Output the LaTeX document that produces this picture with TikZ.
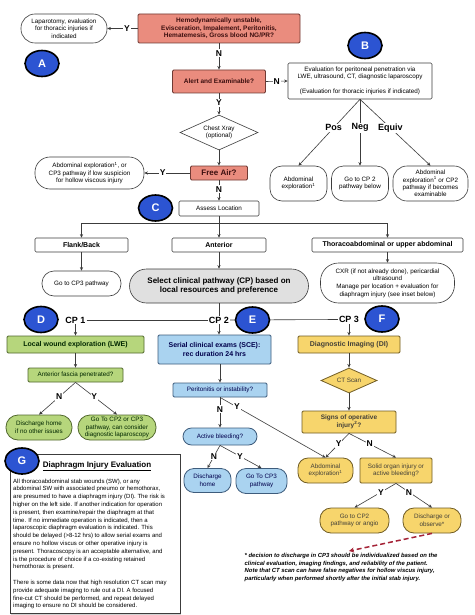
\documentclass[tikz,border=0pt]{standalone}
\usepackage{fontspec}
\setmainfont{Liberation Sans}
\usetikzlibrary{arrows.meta,shapes.geometric,shadows}
\definecolor{salm}{RGB}{234,140,126}
\definecolor{salmd}{RGB}{112,58,52}
\definecolor{grn}{RGB}{182,214,124}
\definecolor{grnd}{RGB}{82,104,46}
\definecolor{blu}{RGB}{170,211,240}
\definecolor{blud}{RGB}{62,92,124}
\definecolor{yel}{RGB}{247,213,108}
\definecolor{yeld}{RGB}{112,92,36}
\definecolor{gry}{RGB}{224,224,224}
\definecolor{cblue}{RGB}{44,84,210}
\definecolor{dred}{RGB}{165,35,55}
\definecolor{bord}{RGB}{60,60,60}
\definecolor{stxt}{RGB}{60,15,15}
\begin{document}
\begin{tikzpicture}[x=1pt,y=-1pt,
  every node/.style={align=center, inner sep=0.5pt, font=\fontsize{6.3}{7.6}\selectfont},
  sz/.style 2 args={minimum width=#1pt, minimum height=#2pt},
  box/.style={draw=bord, line width=0.6pt, rectangle, rounded corners=1.2pt, fill=white},
  rbox/.style={draw=bord, line width=0.6pt, rectangle, rounded corners=#1pt, fill=white},
  cS/.style={fill=salm, draw=salmd, line width=0.8pt, text=stxt},
  cG/.style={fill=grn, draw=grnd, line width=0.8pt, text=black!85!green},
  cB/.style={fill=blu, draw=blud, line width=0.8pt, text=blue!30!black},
  cY/.style={fill=yel, draw=yeld, line width=0.8pt, text=black!85!yellow},
  fb/.style={font=\fontsize{6.5}{7.6}\selectfont\bfseries},
  fB/.style={font=\fontsize{7}{8.4}\selectfont\bfseries},
  circ/.style={ellipse, draw=black, line width=1.6pt, fill=cblue, text=white, sz={34}{26}, font=\fontsize{11}{12}\selectfont\bfseries},
  lbl/.style={fill=white, inner sep=0.8pt, font=\fontsize{8.5}{9}\selectfont\bfseries},
  big/.style={fill=white, inner sep=1pt, font=\fontsize{9}{10}\selectfont\bfseries},
  arr/.style={draw=bord, line width=0.6pt, -{Stealth[length=3.6pt,width=3.2pt]}},
  ln/.style={draw=bord, line width=0.6pt}
]
\useasboundingbox (0,0) rectangle (474,615);
\fill[white] (0,0) rectangle (474,615);

% top section
\node[box, cS, sz={162}{29}, fb] (hemo) at (219,28.5) {Hemodynamically unstable,\\Evisceration, Impalement, Peritonitis,\\Hematemesis, Gross blood NG/PR?};
\node[rbox=14, sz={86}{29}] (lap) at (64,28.5) {Laparotomy, evaluation\\for thoracic injuries if\\indicated};
\node[circ] (A) at (42,63.5) {A};
\node[box, cS, sz={93}{23}, fb] (alert) at (219,81.5) {Alert and Examinable?};
\node[box, sz={144}{36}] (eval) at (360,81) {Evaluation for peritoneal penetration via\\LWE, ultrasound, CT, diagnostic laparoscopy\\[7.4pt](Evaluation for thoracic injuries if indicated)};
\node[circ] (B) at (365,45.5) {B};
\node[rbox=12, sz={57}{35}] (ab1) at (298.5,183.5) {Abdominal\\exploration\textsuperscript{1}};
\node[rbox=12, sz={57}{35}] (go2) at (360,183.5) {Go to CP 2\\pathway below};
\node[rbox=14, sz={75}{35}, font=\fontsize{6.3}{7.2}\selectfont] (ab2) at (430.5,183.5) {Abdominal\\exploration\textsuperscript{1} or CP2\\pathway if becomes\\examinable};
\node[diamond, draw=bord, line width=0.6pt, fill=white, aspect=2.2, sz={78}{35}, inner sep=0pt] (chest) at (219,132.5) {Chest Xray\\(optional)};
\node[box, cS, sz={57}{14}, font=\fontsize{8}{9}\selectfont\bfseries] (free) at (219,173) {Free Air?};
\node[rbox=15, sz={109}{32}] (abf) at (89.5,173) {Abdominal exploration\textsuperscript{1}, or\\CP3 pathway if low suspicion\\for hollow viscous injury};
\node[box, sz={80}{15}] (assess) at (219,208.5) {Assess Location};
\node[circ] (C) at (155.5,208) {C};
\node[box, sz={93}{14}, fB] (flank) at (81.5,245) {Flank/Back};
\node[box, sz={94}{14}, fB] (ant) at (219,245) {Anterior};
\node[box, sz={151}{14}, fB] (thor) at (387.5,245) {Thoracoabdominal or upper abdominal};
\node[rbox=12, sz={79}{25}] (gocp3) at (81.5,283.5) {Go to CP3 pathway};
\node[rbox=17, fill=gry, sz={179}{34}, font=\fontsize{8}{9.3}\selectfont\bfseries] (sel) at (219,286) {Select clinical pathway (CP) based on\\local resources and preference};
\node[rbox=18, sz={134}{40}] (cxr) at (387.5,283) {CXR (if not already done), pericardial\\ultrasound\\Manage per location + evaluation for\\diaphragm injury (see inset below)};

\draw[arr] (hemo.west) -- node[lbl,pos=.35]{Y} (lap.east);
\draw[arr] (hemo.south) -- node[lbl,pos=.37]{N} (alert.north);
\draw[arr] (alert.east) -- node[lbl,pos=.5]{N} (eval.west);
\draw[arr] (alert.south) -- node[lbl,pos=.45]{Y} (chest.north);
\draw[arr] (eval.south) -- node[big,pos=.43]{Pos} (ab1.north);
\draw[arr] (eval.south) -- node[big,pos=.43]{Neg} (go2.north);
\draw[arr] (eval.south) -- node[big,pos=.43]{Equiv} (ab2.north);
\draw[arr] (chest.south) -- (free.north);
\draw[arr] (free.west) -- node[lbl,pos=.6]{Y} (abf.east);
\draw[arr] (free.south) -- node[lbl,pos=.43]{N} (assess.north);
\coordinate (bus) at (219,223);
\draw[arr] (assess.south) -- (ant.north);
\draw[ln] (flank.north |- bus) -- (thor.north |- bus);
\draw[arr] (flank.north |- bus) -- (flank.north);
\draw[arr] (thor.north |- bus) -- (thor.north);
\draw[arr] (flank.south) -- (gocp3.north);
\draw[arr] (ant.south) -- (sel.north);
\draw[arr] (thor.south) -- (cxr.north);

% CP row
\node[big] (cp1) at (75.5,320) {CP 1};
\node[big] (cp2) at (219,320) {CP 2};
\node[big] (cp3) at (349,319.5) {CP 3};
\draw[ln] (sel.south) -- (cp2.north);
\draw[ln] (cp1.east) -- (cp2.west);
\draw[ln] (cp2.east) -- (cp3.west);
\node[circ] (D) at (41,319.5) {D};
\node[circ] (E) at (252.5,320) {E};
\node[circ] (F) at (382,319) {F};

% CP1
\node[box, cG, sz={137}{17}, fB] (lwe) at (75.5,344.5) {Local wound exploration (LWE)};
\node[box, cG, sz={95}{14}] (fas) at (75.5,375) {Anterior fascia penetrated?};
\node[rbox=12, cG, sz={66}{25}] (dis1) at (39,427.5) {Discharge home\\if no other issues};
\node[rbox=12, cG, sz={78}{25}] (go23) at (117,427.5) {Go To CP2 or CP3\\pathway, can consider\\diagnostic laparoscopy};
\draw[arr] (cp1.south) -- (lwe.north);
\draw[arr] (lwe.south) -- (fas.north);
\draw[arr] (fas.south) -- node[lbl,pos=.45]{N} (dis1.north);
\draw[arr] (fas.south) -- node[lbl,pos=.45]{Y} (go23.north);

% CP2
\node[box, cB, sz={113}{29}, fB] (sce) at (214.5,349.5) {Serial clinical exams (SCE):\\rec duration 24 hrs};
\node[box, cB, sz={94}{14}] (per) at (220,390) {Peritonitis or instability?};
\node[rbox=8.5, cB, sz={74}{17}] (bleed) at (220,436.5) {Active bleeding?};
\node[rbox=10, cB, sz={47}{24}] (dis2) at (207.5,480.5) {Discharge\\home};
\node[rbox=10, cB, sz={51}{25}] (go3b) at (261.5,481) {Go To CP3\\pathway};
\draw[arr] (cp2.south) -- (cp2.south |- sce.north);
\draw[arr] (per.north |- sce.south) -- (per.north);
\draw[arr] (per.south) -- node[lbl,pos=.39]{N} (bleed.north);
\draw[arr] (bleed.south) -- node[lbl,pos=.48]{N} (dis2.north);
\draw[arr] (bleed.south) -- node[lbl,pos=.48]{Y} (go3b.north);

% CP3
\node[box, cY, sz={102}{17}, fB] (di) at (349,344.5) {Diagnostic Imaging (DI)};
\node[diamond, cY, aspect=2.2, sz={56}{25}, inner sep=0pt] (ct) at (349,380.5) {CT Scan};
\node[box, cY, sz={94}{22}, fb] (signs) at (349,422) {Signs of operative\\injury\textsuperscript{2}?};
\node[rbox=10, cY, sz={55}{25}] (ab3) at (325.5,470.5) {Abdominal\\exploration\textsuperscript{1}};
\node[box, cY, sz={72}{25}] (solid) at (396,470.5) {Solid organ injury or\\active bleeding?};
\node[rbox=11, cY, sz={69}{25}] (go2a) at (354.5,520.5) {Go to CP2\\pathway or angio};
\node[rbox=11, cY, sz={58}{25}] (disobs) at (432,520.5) {Discharge or\\observe*};
\draw[arr] (cp3.south) -- (di.north);
\draw[arr] (di.south) -- (ct.north);
\draw[arr] (ct.south) -- (signs.north);
\draw[arr] (per.south) -- node[lbl,pos=.16]{Y} (ab3.north);
\draw[arr] (signs.south) -- node[lbl,pos=.44]{Y} (ab3.north);
\draw[arr] (signs.south) -- node[lbl,pos=.44]{N} (solid.north);
\draw[arr] (solid.south) -- node[lbl,pos=.36]{Y} (go2a.north);
\draw[arr] (solid.south) -- node[lbl,pos=.36]{N} (disobs.north);

% footnote
\node[anchor=north west, align=left, font={\fontsize{5.9}{7.7}\selectfont\bfseries\itshape}] (fnote) at (244,552.5) {* decision to discharge in CP3 should be individualized based on the\\clinical evaluation, imaging findings, and reliability of the patient.\\Note that CT scan can have false negatives for hollow viscus injury,\\particularly when performed shortly after the initial stab injury.};
\coordinate (fnarr) at (349,551);
\draw[dred, line width=1.5pt, dash pattern=on 5pt off 3pt, -{Stealth[length=5pt,width=5pt]}] (disobs.south) -- (fnarr);

% inset G
\node[draw=bord, line width=0.6pt, fill=white, sz={170}{159}, drop shadow={opacity=0.35, shadow xshift=1.2pt, shadow yshift=-1.5pt}] (gbox) at (95,533.5) {};
\node[circ] (G) at (22,461) {G};
\node[font=\fontsize{8}{9}\selectfont\bfseries] (gtitle) at (97,466) {\underline{Diaphragm Injury Evaluation}};
\node[anchor=north west, align=left, font=\fontsize{6}{7.8}\selectfont] (gtext) at (12.5,478) {All thoracoabdominal stab wounds (SW), or any\\abdominal SW with associated pneumo or hemothorax,\\are presumed to have a diaphragm injury (DI). The risk is\\higher on the left side. If another indication for operation\\is present, then examine/repair the diaphragm at that\\time. If no immediate operation is indicated, then a\\laparoscopic diaphragm evaluation is indicated. This\\should be delayed (>8-12 hrs) to allow serial exams and\\ensure no hollow viscus or other operative injury is\\present. Thoracoscopy is an acceptable alternative, and\\is the procedure of choice if a co-existing retained\\hemothorax is present.\\[7.8pt]There is some data now that high resolution CT scan may\\provide adequate imaging to rule out a DI. A focused\\fine-cut CT should be performed, and repeat delayed\\imaging to ensure no DI should be considered.};
\end{tikzpicture}
\end{document}
